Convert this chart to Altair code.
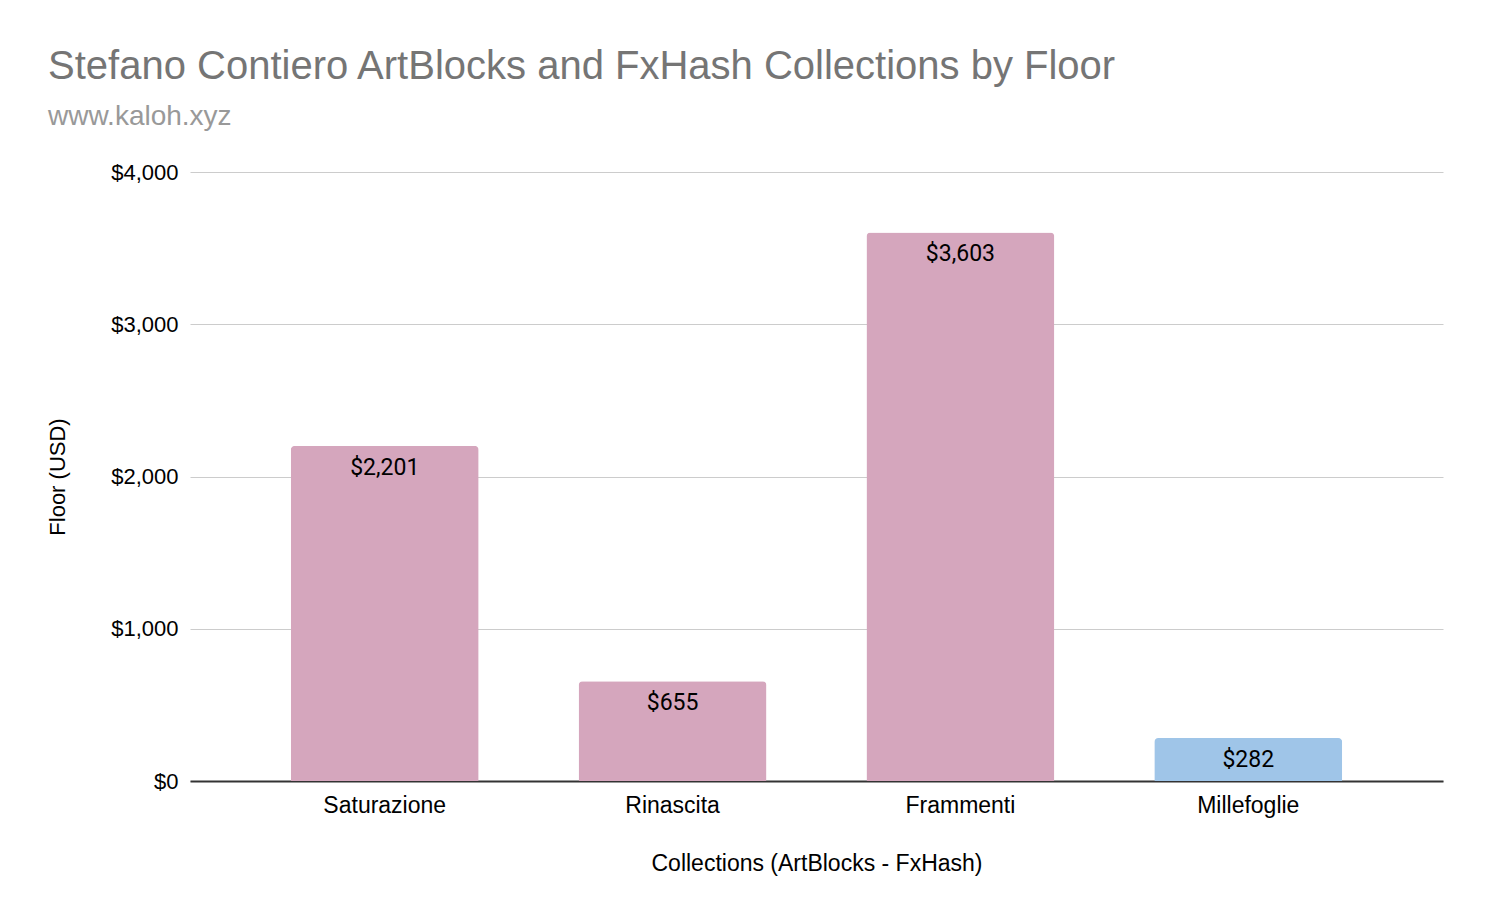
import altair as alt
import pandas as pd

collections = ["Saturazione", "Rinascita", "Frammenti", "Millefoglie"]
floors = [2201, 655, 3603, 282]
platforms = ["ArtBlocks", "ArtBlocks", "ArtBlocks", "FxHash"]

df = pd.DataFrame({"collection": collections, "floor": floors, "platform": platforms})

FONT = "Liberation Sans"

x = alt.X(
    "collection:N",
    sort=collections,
    scale=alt.Scale(paddingInner=0.347, paddingOuter=0.35),
    axis=alt.Axis(
        title="Collections (ArtBlocks - FxHash)",
        labelAngle=0,
        labelFontSize=23,
        labelFont=FONT,
        labelColor="#000000",
        labelPadding=13,
        ticks=False,
        domainColor="#333333",
        domainWidth=2,
        titleFontSize=23,
        titleFont=FONT,
        titleFontWeight="normal",
        titleColor="#000000",
        titlePadding=35,
    ),
)

bars = alt.Chart(df).mark_bar(cornerRadiusTopLeft=4, cornerRadiusTopRight=4).encode(
    x=x,
    y=alt.Y(
        "floor:Q",
        scale=alt.Scale(domain=[0, 4000]),
        axis=alt.Axis(
            title="Floor (USD)",
            values=[0, 1000, 2000, 3000, 4000],
            format="$,d",
            labelFontSize=22,
            labelFont=FONT,
            labelColor="#000000",
            labelPadding=12,
            ticks=False,
            domain=False,
            gridColor="#cccccc",
            gridWidth=1,
            titleFontSize=22,
            titleFont=FONT,
            titleFontWeight="normal",
            titleColor="#000000",
            titlePadding=41,
        ),
    ),
    color=alt.Color(
        "platform:N",
        scale=alt.Scale(domain=["ArtBlocks", "FxHash"], range=["#d5a6bd", "#9fc5e8"]),
        legend=None,
    ),
)

labels = alt.Chart(df).transform_calculate(
    label="'$' + format(datum.floor, ',')"
).mark_text(baseline="top", dy=11, font="Roboto", fontSize=23, color="#000000").encode(
    x=alt.X("collection:N", sort=collections),
    y="floor:Q",
    text="label:N",
)

chart = (bars + labels).properties(
    width=1253,
    height=609,
    autosize=alt.AutoSizeParams(type="none"),
    padding={"left": 182, "top": 164, "right": 39, "bottom": 130},
    title=alt.TitleParams(
        text="Stefano Contiero ArtBlocks and FxHash Collections by Floor",
        subtitle="www.kaloh.xyz",
        anchor="start",
        frame="group",
        dx=-142,
        offset=30,
        font=FONT,
        fontSize=40,
        fontWeight="normal",
        color="#757575",
        subtitleFont=FONT,
        subtitleFontSize=28,
        subtitleColor="#999999",
        subtitlePadding=16,
    ),
).configure_view(stroke=None)

chart.save("out.html", embed_options={"renderer": "svg", "actions": False})
